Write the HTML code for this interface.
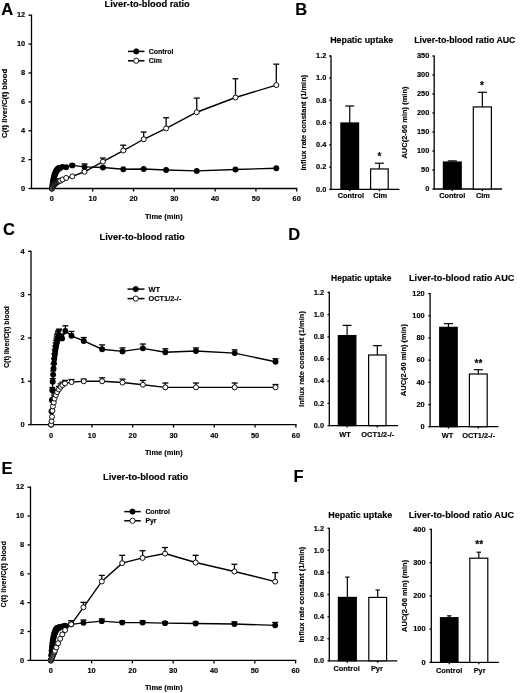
<!DOCTYPE html>
<html><head><meta charset="utf-8"><title>Figure</title>
<style>html,body{margin:0;padding:0;background:#fff}svg{display:block}text{font-family:"Liberation Sans",Arial,sans-serif;font-weight:bold;fill:#000;stroke:#000;stroke-width:0.15px}</style>
</head><body>
<svg width="520" height="693" viewBox="0 0 520 693">
<rect width="520" height="693" fill="#fff"/>
<text x="1.20" y="15.00" font-size="16.5" text-anchor="start" >A</text>
<text x="147.20" y="7.10" font-size="9.3" text-anchor="middle" >Liver-to-blood ratio</text>
<line x1="31.50" y1="14.60" x2="31.50" y2="189.10" stroke="#000" stroke-width="1.3"/>
<line x1="30.90" y1="188.50" x2="297.30" y2="188.50" stroke="#000" stroke-width="1.3"/>
<line x1="28.50" y1="188.50" x2="31.50" y2="188.50" stroke="#000" stroke-width="1.3"/>
<text x="25.20" y="190.70" font-size="7.4" text-anchor="end" >0</text>
<line x1="28.50" y1="159.62" x2="31.50" y2="159.62" stroke="#000" stroke-width="1.3"/>
<text x="25.20" y="161.82" font-size="7.4" text-anchor="end" >2</text>
<line x1="28.50" y1="130.73" x2="31.50" y2="130.73" stroke="#000" stroke-width="1.3"/>
<text x="25.20" y="132.93" font-size="7.4" text-anchor="end" >4</text>
<line x1="28.50" y1="101.85" x2="31.50" y2="101.85" stroke="#000" stroke-width="1.3"/>
<text x="25.20" y="104.05" font-size="7.4" text-anchor="end" >6</text>
<line x1="28.50" y1="72.97" x2="31.50" y2="72.97" stroke="#000" stroke-width="1.3"/>
<text x="25.20" y="75.17" font-size="7.4" text-anchor="end" >8</text>
<line x1="28.50" y1="44.08" x2="31.50" y2="44.08" stroke="#000" stroke-width="1.3"/>
<text x="25.20" y="46.28" font-size="7.4" text-anchor="end" >10</text>
<line x1="28.50" y1="15.20" x2="31.50" y2="15.20" stroke="#000" stroke-width="1.3"/>
<text x="25.20" y="17.40" font-size="7.4" text-anchor="end" >12</text>
<line x1="51.90" y1="188.50" x2="51.90" y2="191.50" stroke="#000" stroke-width="1.3"/>
<text x="51.90" y="201.30" font-size="7.4" text-anchor="middle" >0</text>
<line x1="92.70" y1="188.50" x2="92.70" y2="191.50" stroke="#000" stroke-width="1.3"/>
<text x="92.70" y="201.30" font-size="7.4" text-anchor="middle" >10</text>
<line x1="133.50" y1="188.50" x2="133.50" y2="191.50" stroke="#000" stroke-width="1.3"/>
<text x="133.50" y="201.30" font-size="7.4" text-anchor="middle" >20</text>
<line x1="174.30" y1="188.50" x2="174.30" y2="191.50" stroke="#000" stroke-width="1.3"/>
<text x="174.30" y="201.30" font-size="7.4" text-anchor="middle" >30</text>
<line x1="215.10" y1="188.50" x2="215.10" y2="191.50" stroke="#000" stroke-width="1.3"/>
<text x="215.10" y="201.30" font-size="7.4" text-anchor="middle" >40</text>
<line x1="255.90" y1="188.50" x2="255.90" y2="191.50" stroke="#000" stroke-width="1.3"/>
<text x="255.90" y="201.30" font-size="7.4" text-anchor="middle" >50</text>
<line x1="296.70" y1="188.50" x2="296.70" y2="191.50" stroke="#000" stroke-width="1.3"/>
<text x="296.70" y="201.30" font-size="7.4" text-anchor="middle" >60</text>
<text x="7.10" y="103.50" font-size="7.65" text-anchor="middle" transform="rotate(-90 7.10 103.50)" >C(t) liver/C(t) blood</text>
<text x="163.80" y="218.90" font-size="7.5" text-anchor="middle" >Time (min)</text>
<line x1="128.00" y1="51.40" x2="144.50" y2="51.40" stroke="#000" stroke-width="1.5"/>
<circle cx="136.25" cy="51.40" r="2.6" fill="#000" stroke="#000" stroke-width="0.9"/>
<text x="148.70" y="53.90" font-size="6.95" text-anchor="start" >Control</text>
<line x1="128.00" y1="60.80" x2="144.50" y2="60.80" stroke="#000" stroke-width="1.5"/>
<circle cx="136.25" cy="60.80" r="2.6" fill="#fff" stroke="#000" stroke-width="0.9"/>
<text x="148.70" y="63.30" font-size="6.95" text-anchor="start" >Cim</text>
<line x1="53.12" y1="181.12" x2="53.12" y2="180.53" stroke="#000" stroke-width="1.3"/>
<line x1="50.12" y1="180.53" x2="56.12" y2="180.53" stroke="#000" stroke-width="1.3"/>
<line x1="53.53" y1="179.25" x2="53.53" y2="178.51" stroke="#000" stroke-width="1.3"/>
<line x1="50.53" y1="178.51" x2="56.53" y2="178.51" stroke="#000" stroke-width="1.3"/>
<line x1="53.94" y1="177.61" x2="53.94" y2="176.74" stroke="#000" stroke-width="1.3"/>
<line x1="50.94" y1="176.74" x2="56.94" y2="176.74" stroke="#000" stroke-width="1.3"/>
<line x1="54.35" y1="176.17" x2="54.35" y2="175.19" stroke="#000" stroke-width="1.3"/>
<line x1="51.35" y1="175.19" x2="57.35" y2="175.19" stroke="#000" stroke-width="1.3"/>
<line x1="54.76" y1="174.92" x2="54.76" y2="173.83" stroke="#000" stroke-width="1.3"/>
<line x1="51.76" y1="173.83" x2="57.76" y2="173.83" stroke="#000" stroke-width="1.3"/>
<line x1="55.16" y1="173.82" x2="55.16" y2="172.64" stroke="#000" stroke-width="1.3"/>
<line x1="52.16" y1="172.64" x2="58.16" y2="172.64" stroke="#000" stroke-width="1.3"/>
<line x1="55.57" y1="172.86" x2="55.57" y2="171.61" stroke="#000" stroke-width="1.3"/>
<line x1="52.57" y1="171.61" x2="58.57" y2="171.61" stroke="#000" stroke-width="1.3"/>
<line x1="55.98" y1="172.02" x2="55.98" y2="170.70" stroke="#000" stroke-width="1.3"/>
<line x1="52.98" y1="170.70" x2="58.98" y2="170.70" stroke="#000" stroke-width="1.3"/>
<line x1="56.39" y1="171.28" x2="56.39" y2="169.90" stroke="#000" stroke-width="1.3"/>
<line x1="53.39" y1="169.90" x2="59.39" y2="169.90" stroke="#000" stroke-width="1.3"/>
<line x1="56.80" y1="170.63" x2="56.80" y2="169.21" stroke="#000" stroke-width="1.3"/>
<line x1="53.80" y1="169.21" x2="59.80" y2="169.21" stroke="#000" stroke-width="1.3"/>
<line x1="57.20" y1="170.07" x2="57.20" y2="168.60" stroke="#000" stroke-width="1.3"/>
<line x1="54.20" y1="168.60" x2="60.20" y2="168.60" stroke="#000" stroke-width="1.3"/>
<line x1="57.61" y1="169.58" x2="57.61" y2="168.06" stroke="#000" stroke-width="1.3"/>
<line x1="54.61" y1="168.06" x2="60.61" y2="168.06" stroke="#000" stroke-width="1.3"/>
<line x1="58.02" y1="169.14" x2="58.02" y2="167.60" stroke="#000" stroke-width="1.3"/>
<line x1="55.02" y1="167.60" x2="61.02" y2="167.60" stroke="#000" stroke-width="1.3"/>
<line x1="58.43" y1="168.77" x2="58.43" y2="167.19" stroke="#000" stroke-width="1.3"/>
<line x1="55.43" y1="167.19" x2="61.43" y2="167.19" stroke="#000" stroke-width="1.3"/>
<line x1="58.84" y1="168.44" x2="58.84" y2="166.83" stroke="#000" stroke-width="1.3"/>
<line x1="55.84" y1="166.83" x2="61.84" y2="166.83" stroke="#000" stroke-width="1.3"/>
<line x1="59.24" y1="168.15" x2="59.24" y2="166.52" stroke="#000" stroke-width="1.3"/>
<line x1="56.24" y1="166.52" x2="62.24" y2="166.52" stroke="#000" stroke-width="1.3"/>
<line x1="59.65" y1="167.89" x2="59.65" y2="166.24" stroke="#000" stroke-width="1.3"/>
<line x1="56.65" y1="166.24" x2="62.65" y2="166.24" stroke="#000" stroke-width="1.3"/>
<line x1="60.06" y1="167.67" x2="60.06" y2="166.00" stroke="#000" stroke-width="1.3"/>
<line x1="57.06" y1="166.00" x2="63.06" y2="166.00" stroke="#000" stroke-width="1.3"/>
<line x1="62.51" y1="166.84" x2="62.51" y2="165.68" stroke="#000" stroke-width="1.3"/>
<line x1="59.51" y1="165.68" x2="65.51" y2="165.68" stroke="#000" stroke-width="1.3"/>
<line x1="66.18" y1="167.27" x2="66.18" y2="166.12" stroke="#000" stroke-width="1.3"/>
<line x1="63.18" y1="166.12" x2="69.18" y2="166.12" stroke="#000" stroke-width="1.3"/>
<line x1="72.30" y1="165.39" x2="72.30" y2="164.24" stroke="#000" stroke-width="1.3"/>
<line x1="69.30" y1="164.24" x2="75.30" y2="164.24" stroke="#000" stroke-width="1.3"/>
<line x1="84.54" y1="166.84" x2="84.54" y2="163.95" stroke="#000" stroke-width="1.3"/>
<line x1="81.54" y1="163.95" x2="87.54" y2="163.95" stroke="#000" stroke-width="1.3"/>
<line x1="102.90" y1="167.56" x2="102.90" y2="166.84" stroke="#000" stroke-width="1.3"/>
<line x1="99.90" y1="166.84" x2="105.90" y2="166.84" stroke="#000" stroke-width="1.3"/>
<path d="M51.90 188.50 L52.31 185.71 L52.72 183.26 L53.12 181.12 L53.53 179.25 L53.94 177.61 L54.35 176.17 L54.76 174.92 L55.16 173.82 L55.57 172.86 L55.98 172.02 L56.39 171.28 L56.80 170.63 L57.20 170.07 L57.61 169.58 L58.02 169.14 L58.43 168.77 L58.84 168.44 L59.24 168.15 L59.65 167.89 L60.06 167.67 L62.51 166.84 L66.18 167.27 L72.30 165.39 L84.54 166.84 L102.90 167.56 L123.30 169.29 L143.70 169.00 L166.14 170.01 L196.74 170.88 L235.50 169.44 L276.30 168.28" fill="none" stroke="#000" stroke-width="1.4"/>
<circle cx="51.90" cy="188.50" r="2.95" fill="#000"/>
<circle cx="52.31" cy="185.71" r="2.95" fill="#000"/>
<circle cx="52.72" cy="183.26" r="2.95" fill="#000"/>
<circle cx="53.12" cy="181.12" r="2.95" fill="#000"/>
<circle cx="53.53" cy="179.25" r="2.95" fill="#000"/>
<circle cx="53.94" cy="177.61" r="2.95" fill="#000"/>
<circle cx="54.35" cy="176.17" r="2.95" fill="#000"/>
<circle cx="54.76" cy="174.92" r="2.95" fill="#000"/>
<circle cx="55.16" cy="173.82" r="2.95" fill="#000"/>
<circle cx="55.57" cy="172.86" r="2.95" fill="#000"/>
<circle cx="55.98" cy="172.02" r="2.95" fill="#000"/>
<circle cx="56.39" cy="171.28" r="2.95" fill="#000"/>
<circle cx="56.80" cy="170.63" r="2.95" fill="#000"/>
<circle cx="57.20" cy="170.07" r="2.95" fill="#000"/>
<circle cx="57.61" cy="169.58" r="2.95" fill="#000"/>
<circle cx="58.02" cy="169.14" r="2.95" fill="#000"/>
<circle cx="58.43" cy="168.77" r="2.95" fill="#000"/>
<circle cx="58.84" cy="168.44" r="2.95" fill="#000"/>
<circle cx="59.24" cy="168.15" r="2.95" fill="#000"/>
<circle cx="59.65" cy="167.89" r="2.95" fill="#000"/>
<circle cx="60.06" cy="167.67" r="2.95" fill="#000"/>
<circle cx="62.51" cy="166.84" r="2.95" fill="#000"/>
<circle cx="66.18" cy="167.27" r="2.95" fill="#000"/>
<circle cx="72.30" cy="165.39" r="2.95" fill="#000"/>
<circle cx="84.54" cy="166.84" r="2.95" fill="#000"/>
<circle cx="102.90" cy="167.56" r="2.95" fill="#000"/>
<circle cx="123.30" cy="169.29" r="2.95" fill="#000"/>
<circle cx="143.70" cy="169.00" r="2.95" fill="#000"/>
<circle cx="166.14" cy="170.01" r="2.95" fill="#000"/>
<circle cx="196.74" cy="170.88" r="2.95" fill="#000"/>
<circle cx="235.50" cy="169.44" r="2.95" fill="#000"/>
<circle cx="276.30" cy="168.28" r="2.95" fill="#000"/>
<line x1="84.54" y1="171.75" x2="84.54" y2="170.30" stroke="#000" stroke-width="1.3"/>
<line x1="81.54" y1="170.30" x2="87.54" y2="170.30" stroke="#000" stroke-width="1.3"/>
<line x1="102.90" y1="161.64" x2="102.90" y2="158.03" stroke="#000" stroke-width="1.3"/>
<line x1="99.90" y1="158.03" x2="105.90" y2="158.03" stroke="#000" stroke-width="1.3"/>
<line x1="123.30" y1="150.52" x2="123.30" y2="145.18" stroke="#000" stroke-width="1.3"/>
<line x1="120.30" y1="145.18" x2="126.30" y2="145.18" stroke="#000" stroke-width="1.3"/>
<line x1="143.70" y1="139.25" x2="143.70" y2="132.03" stroke="#000" stroke-width="1.3"/>
<line x1="140.70" y1="132.03" x2="146.70" y2="132.03" stroke="#000" stroke-width="1.3"/>
<line x1="166.14" y1="128.42" x2="166.14" y2="117.74" stroke="#000" stroke-width="1.3"/>
<line x1="163.14" y1="117.74" x2="169.14" y2="117.74" stroke="#000" stroke-width="1.3"/>
<line x1="196.74" y1="112.25" x2="196.74" y2="98.10" stroke="#000" stroke-width="1.3"/>
<line x1="193.74" y1="98.10" x2="199.74" y2="98.10" stroke="#000" stroke-width="1.3"/>
<line x1="235.50" y1="97.52" x2="235.50" y2="78.74" stroke="#000" stroke-width="1.3"/>
<line x1="232.50" y1="78.74" x2="238.50" y2="78.74" stroke="#000" stroke-width="1.3"/>
<line x1="276.30" y1="85.10" x2="276.30" y2="64.16" stroke="#000" stroke-width="1.3"/>
<line x1="273.30" y1="64.16" x2="279.30" y2="64.16" stroke="#000" stroke-width="1.3"/>
<path d="M51.90 188.50 L52.31 187.65 L52.72 186.88 L53.12 186.18 L53.53 185.55 L53.94 184.98 L54.35 184.46 L54.76 183.99 L55.16 183.57 L55.57 183.19 L55.98 182.84 L56.39 182.53 L56.80 182.24 L57.20 181.99 L57.61 181.75 L58.02 181.54 L58.43 181.35 L58.84 181.18 L59.24 181.03 L59.65 180.89 L60.26 180.70 L62.51 179.55 L66.18 177.96 L72.30 176.37 L84.54 171.75 L102.90 161.64 L123.30 150.52 L143.70 139.25 L166.14 128.42 L196.74 112.25 L235.50 97.52 L276.30 85.10" fill="none" stroke="#000" stroke-width="1.4"/>
<circle cx="51.90" cy="188.50" r="2.5" fill="#fff" stroke="#000" stroke-width="0.95"/>
<circle cx="52.31" cy="187.65" r="2.5" fill="#fff" stroke="#000" stroke-width="0.95"/>
<circle cx="52.72" cy="186.88" r="2.5" fill="#fff" stroke="#000" stroke-width="0.95"/>
<circle cx="53.12" cy="186.18" r="2.5" fill="#fff" stroke="#000" stroke-width="0.95"/>
<circle cx="53.53" cy="185.55" r="2.5" fill="#fff" stroke="#000" stroke-width="0.95"/>
<circle cx="53.94" cy="184.98" r="2.5" fill="#fff" stroke="#000" stroke-width="0.95"/>
<circle cx="54.35" cy="184.46" r="2.5" fill="#fff" stroke="#000" stroke-width="0.95"/>
<circle cx="54.76" cy="183.99" r="2.5" fill="#fff" stroke="#000" stroke-width="0.95"/>
<circle cx="55.16" cy="183.57" r="2.5" fill="#fff" stroke="#000" stroke-width="0.95"/>
<circle cx="55.57" cy="183.19" r="2.5" fill="#fff" stroke="#000" stroke-width="0.95"/>
<circle cx="55.98" cy="182.84" r="2.5" fill="#fff" stroke="#000" stroke-width="0.95"/>
<circle cx="56.39" cy="182.53" r="2.5" fill="#fff" stroke="#000" stroke-width="0.95"/>
<circle cx="56.80" cy="182.24" r="2.5" fill="#fff" stroke="#000" stroke-width="0.95"/>
<circle cx="57.20" cy="181.99" r="2.5" fill="#fff" stroke="#000" stroke-width="0.95"/>
<circle cx="57.61" cy="181.75" r="2.5" fill="#fff" stroke="#000" stroke-width="0.95"/>
<circle cx="58.02" cy="181.54" r="2.5" fill="#fff" stroke="#000" stroke-width="0.95"/>
<circle cx="58.43" cy="181.35" r="2.5" fill="#fff" stroke="#000" stroke-width="0.95"/>
<circle cx="58.84" cy="181.18" r="2.5" fill="#fff" stroke="#000" stroke-width="0.95"/>
<circle cx="59.24" cy="181.03" r="2.5" fill="#fff" stroke="#000" stroke-width="0.95"/>
<circle cx="59.65" cy="180.89" r="2.5" fill="#fff" stroke="#000" stroke-width="0.95"/>
<circle cx="60.26" cy="180.70" r="2.5" fill="#fff" stroke="#000" stroke-width="0.95"/>
<circle cx="62.51" cy="179.55" r="2.5" fill="#fff" stroke="#000" stroke-width="0.95"/>
<circle cx="66.18" cy="177.96" r="2.5" fill="#fff" stroke="#000" stroke-width="0.95"/>
<circle cx="72.30" cy="176.37" r="2.5" fill="#fff" stroke="#000" stroke-width="0.95"/>
<circle cx="84.54" cy="171.75" r="2.5" fill="#fff" stroke="#000" stroke-width="0.95"/>
<circle cx="102.90" cy="161.64" r="2.5" fill="#fff" stroke="#000" stroke-width="0.95"/>
<circle cx="123.30" cy="150.52" r="2.5" fill="#fff" stroke="#000" stroke-width="0.95"/>
<circle cx="143.70" cy="139.25" r="2.5" fill="#fff" stroke="#000" stroke-width="0.95"/>
<circle cx="166.14" cy="128.42" r="2.5" fill="#fff" stroke="#000" stroke-width="0.95"/>
<circle cx="196.74" cy="112.25" r="2.5" fill="#fff" stroke="#000" stroke-width="0.95"/>
<circle cx="235.50" cy="97.52" r="2.5" fill="#fff" stroke="#000" stroke-width="0.95"/>
<circle cx="276.30" cy="85.10" r="2.5" fill="#fff" stroke="#000" stroke-width="0.95"/>
<text x="3.00" y="235.10" font-size="16.5" text-anchor="start" >C</text>
<text x="142.20" y="240.10" font-size="9.3" text-anchor="middle" >Liver-to-blood ratio</text>
<line x1="31.00" y1="250.70" x2="31.00" y2="425.20" stroke="#000" stroke-width="1.3"/>
<line x1="30.40" y1="424.60" x2="296.50" y2="424.60" stroke="#000" stroke-width="1.3"/>
<line x1="28.00" y1="424.60" x2="31.00" y2="424.60" stroke="#000" stroke-width="1.3"/>
<text x="24.70" y="426.80" font-size="7.4" text-anchor="end" >0</text>
<line x1="28.00" y1="381.28" x2="31.00" y2="381.28" stroke="#000" stroke-width="1.3"/>
<text x="24.70" y="383.48" font-size="7.4" text-anchor="end" >1</text>
<line x1="28.00" y1="337.95" x2="31.00" y2="337.95" stroke="#000" stroke-width="1.3"/>
<text x="24.70" y="340.15" font-size="7.4" text-anchor="end" >2</text>
<line x1="28.00" y1="294.62" x2="31.00" y2="294.62" stroke="#000" stroke-width="1.3"/>
<text x="24.70" y="296.82" font-size="7.4" text-anchor="end" >3</text>
<line x1="28.00" y1="251.30" x2="31.00" y2="251.30" stroke="#000" stroke-width="1.3"/>
<text x="24.70" y="253.50" font-size="7.4" text-anchor="end" >4</text>
<line x1="51.10" y1="424.60" x2="51.10" y2="427.60" stroke="#000" stroke-width="1.3"/>
<text x="51.10" y="437.50" font-size="7.4" text-anchor="middle" >0</text>
<line x1="91.90" y1="424.60" x2="91.90" y2="427.60" stroke="#000" stroke-width="1.3"/>
<text x="91.90" y="437.50" font-size="7.4" text-anchor="middle" >10</text>
<line x1="132.70" y1="424.60" x2="132.70" y2="427.60" stroke="#000" stroke-width="1.3"/>
<text x="132.70" y="437.50" font-size="7.4" text-anchor="middle" >20</text>
<line x1="173.50" y1="424.60" x2="173.50" y2="427.60" stroke="#000" stroke-width="1.3"/>
<text x="173.50" y="437.50" font-size="7.4" text-anchor="middle" >30</text>
<line x1="214.30" y1="424.60" x2="214.30" y2="427.60" stroke="#000" stroke-width="1.3"/>
<text x="214.30" y="437.50" font-size="7.4" text-anchor="middle" >40</text>
<line x1="255.10" y1="424.60" x2="255.10" y2="427.60" stroke="#000" stroke-width="1.3"/>
<text x="255.10" y="437.50" font-size="7.4" text-anchor="middle" >50</text>
<line x1="295.90" y1="424.60" x2="295.90" y2="427.60" stroke="#000" stroke-width="1.3"/>
<text x="295.90" y="437.50" font-size="7.4" text-anchor="middle" >60</text>
<text x="8.80" y="337.00" font-size="6.8" text-anchor="middle" transform="rotate(-90 8.80 337.00)" >C(t) liver/C(t) blood</text>
<text x="163.80" y="454.90" font-size="7.5" text-anchor="middle" >Time (min)</text>
<line x1="127.50" y1="289.10" x2="144.50" y2="289.10" stroke="#000" stroke-width="1.5"/>
<circle cx="135.75" cy="289.10" r="2.6" fill="#000" stroke="#000" stroke-width="0.9"/>
<text x="148.50" y="291.76" font-size="7.4" text-anchor="start" >WT</text>
<line x1="127.50" y1="298.60" x2="144.50" y2="298.60" stroke="#000" stroke-width="1.5"/>
<circle cx="135.75" cy="298.60" r="2.6" fill="#fff" stroke="#000" stroke-width="0.9"/>
<text x="148.50" y="301.26" font-size="7.4" text-anchor="start" >OCT1/2-/-</text>
<line x1="52.32" y1="390.16" x2="52.32" y2="387.58" stroke="#000" stroke-width="1.3"/>
<line x1="49.32" y1="387.58" x2="55.32" y2="387.58" stroke="#000" stroke-width="1.3"/>
<line x1="52.73" y1="381.79" x2="52.73" y2="378.58" stroke="#000" stroke-width="1.3"/>
<line x1="49.73" y1="378.58" x2="55.73" y2="378.58" stroke="#000" stroke-width="1.3"/>
<line x1="53.14" y1="374.61" x2="53.14" y2="370.86" stroke="#000" stroke-width="1.3"/>
<line x1="50.14" y1="370.86" x2="56.14" y2="370.86" stroke="#000" stroke-width="1.3"/>
<line x1="53.55" y1="368.46" x2="53.55" y2="364.25" stroke="#000" stroke-width="1.3"/>
<line x1="50.55" y1="364.25" x2="56.55" y2="364.25" stroke="#000" stroke-width="1.3"/>
<line x1="53.96" y1="363.18" x2="53.96" y2="358.58" stroke="#000" stroke-width="1.3"/>
<line x1="50.96" y1="358.58" x2="56.96" y2="358.58" stroke="#000" stroke-width="1.3"/>
<line x1="54.36" y1="358.66" x2="54.36" y2="353.71" stroke="#000" stroke-width="1.3"/>
<line x1="51.36" y1="353.71" x2="57.36" y2="353.71" stroke="#000" stroke-width="1.3"/>
<line x1="54.77" y1="354.78" x2="54.77" y2="349.54" stroke="#000" stroke-width="1.3"/>
<line x1="51.77" y1="349.54" x2="57.77" y2="349.54" stroke="#000" stroke-width="1.3"/>
<line x1="55.18" y1="351.45" x2="55.18" y2="345.97" stroke="#000" stroke-width="1.3"/>
<line x1="52.18" y1="345.97" x2="58.18" y2="345.97" stroke="#000" stroke-width="1.3"/>
<line x1="55.59" y1="348.60" x2="55.59" y2="342.90" stroke="#000" stroke-width="1.3"/>
<line x1="52.59" y1="342.90" x2="58.59" y2="342.90" stroke="#000" stroke-width="1.3"/>
<line x1="56.00" y1="346.15" x2="56.00" y2="340.27" stroke="#000" stroke-width="1.3"/>
<line x1="53.00" y1="340.27" x2="59.00" y2="340.27" stroke="#000" stroke-width="1.3"/>
<line x1="56.40" y1="344.06" x2="56.40" y2="338.02" stroke="#000" stroke-width="1.3"/>
<line x1="53.40" y1="338.02" x2="59.40" y2="338.02" stroke="#000" stroke-width="1.3"/>
<line x1="56.81" y1="342.26" x2="56.81" y2="336.08" stroke="#000" stroke-width="1.3"/>
<line x1="53.81" y1="336.08" x2="59.81" y2="336.08" stroke="#000" stroke-width="1.3"/>
<line x1="57.22" y1="340.72" x2="57.22" y2="334.43" stroke="#000" stroke-width="1.3"/>
<line x1="54.22" y1="334.43" x2="60.22" y2="334.43" stroke="#000" stroke-width="1.3"/>
<line x1="57.63" y1="339.40" x2="57.63" y2="333.01" stroke="#000" stroke-width="1.3"/>
<line x1="54.63" y1="333.01" x2="60.63" y2="333.01" stroke="#000" stroke-width="1.3"/>
<line x1="58.04" y1="338.26" x2="58.04" y2="331.79" stroke="#000" stroke-width="1.3"/>
<line x1="55.04" y1="331.79" x2="61.04" y2="331.79" stroke="#000" stroke-width="1.3"/>
<line x1="58.44" y1="337.29" x2="58.44" y2="330.74" stroke="#000" stroke-width="1.3"/>
<line x1="55.44" y1="330.74" x2="61.44" y2="330.74" stroke="#000" stroke-width="1.3"/>
<line x1="58.85" y1="336.46" x2="58.85" y2="329.85" stroke="#000" stroke-width="1.3"/>
<line x1="55.85" y1="329.85" x2="61.85" y2="329.85" stroke="#000" stroke-width="1.3"/>
<line x1="59.26" y1="335.75" x2="59.26" y2="329.08" stroke="#000" stroke-width="1.3"/>
<line x1="56.26" y1="329.08" x2="62.26" y2="329.08" stroke="#000" stroke-width="1.3"/>
<line x1="62.12" y1="338.38" x2="62.12" y2="334.05" stroke="#000" stroke-width="1.3"/>
<line x1="59.12" y1="334.05" x2="65.12" y2="334.05" stroke="#000" stroke-width="1.3"/>
<line x1="65.38" y1="331.02" x2="65.38" y2="325.82" stroke="#000" stroke-width="1.3"/>
<line x1="62.38" y1="325.82" x2="68.38" y2="325.82" stroke="#000" stroke-width="1.3"/>
<line x1="71.50" y1="335.78" x2="71.50" y2="331.45" stroke="#000" stroke-width="1.3"/>
<line x1="68.50" y1="331.45" x2="74.50" y2="331.45" stroke="#000" stroke-width="1.3"/>
<line x1="83.74" y1="340.98" x2="83.74" y2="337.52" stroke="#000" stroke-width="1.3"/>
<line x1="80.74" y1="337.52" x2="86.74" y2="337.52" stroke="#000" stroke-width="1.3"/>
<line x1="102.10" y1="349.21" x2="102.10" y2="344.88" stroke="#000" stroke-width="1.3"/>
<line x1="99.10" y1="344.88" x2="105.10" y2="344.88" stroke="#000" stroke-width="1.3"/>
<line x1="122.50" y1="351.38" x2="122.50" y2="347.91" stroke="#000" stroke-width="1.3"/>
<line x1="119.50" y1="347.91" x2="125.50" y2="347.91" stroke="#000" stroke-width="1.3"/>
<line x1="142.90" y1="348.35" x2="142.90" y2="344.02" stroke="#000" stroke-width="1.3"/>
<line x1="139.90" y1="344.02" x2="145.90" y2="344.02" stroke="#000" stroke-width="1.3"/>
<line x1="165.34" y1="352.25" x2="165.34" y2="348.78" stroke="#000" stroke-width="1.3"/>
<line x1="162.34" y1="348.78" x2="168.34" y2="348.78" stroke="#000" stroke-width="1.3"/>
<line x1="195.94" y1="350.95" x2="195.94" y2="347.91" stroke="#000" stroke-width="1.3"/>
<line x1="192.94" y1="347.91" x2="198.94" y2="347.91" stroke="#000" stroke-width="1.3"/>
<line x1="234.70" y1="353.11" x2="234.70" y2="349.86" stroke="#000" stroke-width="1.3"/>
<line x1="231.70" y1="349.86" x2="237.70" y2="349.86" stroke="#000" stroke-width="1.3"/>
<line x1="275.50" y1="361.78" x2="275.50" y2="358.75" stroke="#000" stroke-width="1.3"/>
<line x1="272.50" y1="358.75" x2="278.50" y2="358.75" stroke="#000" stroke-width="1.3"/>
<path d="M51.10 424.60 L51.51 411.32 L51.92 399.93 L52.32 390.16 L52.73 381.79 L53.14 374.61 L53.55 368.46 L53.96 363.18 L54.36 358.66 L54.77 354.78 L55.18 351.45 L55.59 348.60 L56.00 346.15 L56.40 344.06 L56.81 342.26 L57.22 340.72 L57.63 339.40 L58.04 338.26 L58.44 337.29 L58.85 336.46 L59.26 335.75 L62.12 338.38 L65.38 331.02 L71.50 335.78 L83.74 340.98 L102.10 349.21 L122.50 351.38 L142.90 348.35 L165.34 352.25 L195.94 350.95 L234.70 353.11 L275.50 361.78" fill="none" stroke="#000" stroke-width="1.4"/>
<circle cx="51.10" cy="424.60" r="2.95" fill="#000"/>
<circle cx="51.51" cy="411.32" r="2.95" fill="#000"/>
<circle cx="51.92" cy="399.93" r="2.95" fill="#000"/>
<circle cx="52.32" cy="390.16" r="2.95" fill="#000"/>
<circle cx="52.73" cy="381.79" r="2.95" fill="#000"/>
<circle cx="53.14" cy="374.61" r="2.95" fill="#000"/>
<circle cx="53.55" cy="368.46" r="2.95" fill="#000"/>
<circle cx="53.96" cy="363.18" r="2.95" fill="#000"/>
<circle cx="54.36" cy="358.66" r="2.95" fill="#000"/>
<circle cx="54.77" cy="354.78" r="2.95" fill="#000"/>
<circle cx="55.18" cy="351.45" r="2.95" fill="#000"/>
<circle cx="55.59" cy="348.60" r="2.95" fill="#000"/>
<circle cx="56.00" cy="346.15" r="2.95" fill="#000"/>
<circle cx="56.40" cy="344.06" r="2.95" fill="#000"/>
<circle cx="56.81" cy="342.26" r="2.95" fill="#000"/>
<circle cx="57.22" cy="340.72" r="2.95" fill="#000"/>
<circle cx="57.63" cy="339.40" r="2.95" fill="#000"/>
<circle cx="58.04" cy="338.26" r="2.95" fill="#000"/>
<circle cx="58.44" cy="337.29" r="2.95" fill="#000"/>
<circle cx="58.85" cy="336.46" r="2.95" fill="#000"/>
<circle cx="59.26" cy="335.75" r="2.95" fill="#000"/>
<circle cx="62.12" cy="338.38" r="2.95" fill="#000"/>
<circle cx="65.38" cy="331.02" r="2.95" fill="#000"/>
<circle cx="71.50" cy="335.78" r="2.95" fill="#000"/>
<circle cx="83.74" cy="340.98" r="2.95" fill="#000"/>
<circle cx="102.10" cy="349.21" r="2.95" fill="#000"/>
<circle cx="122.50" cy="351.38" r="2.95" fill="#000"/>
<circle cx="142.90" cy="348.35" r="2.95" fill="#000"/>
<circle cx="165.34" cy="352.25" r="2.95" fill="#000"/>
<circle cx="195.94" cy="350.95" r="2.95" fill="#000"/>
<circle cx="234.70" cy="353.11" r="2.95" fill="#000"/>
<circle cx="275.50" cy="361.78" r="2.95" fill="#000"/>
<line x1="55.87" y1="395.14" x2="55.87" y2="392.97" stroke="#000" stroke-width="1.3"/>
<line x1="52.87" y1="392.97" x2="58.87" y2="392.97" stroke="#000" stroke-width="1.3"/>
<line x1="57.18" y1="392.11" x2="57.18" y2="389.51" stroke="#000" stroke-width="1.3"/>
<line x1="54.18" y1="389.51" x2="60.18" y2="389.51" stroke="#000" stroke-width="1.3"/>
<line x1="58.85" y1="389.51" x2="58.85" y2="386.47" stroke="#000" stroke-width="1.3"/>
<line x1="55.85" y1="386.47" x2="61.85" y2="386.47" stroke="#000" stroke-width="1.3"/>
<line x1="60.65" y1="386.91" x2="60.65" y2="383.87" stroke="#000" stroke-width="1.3"/>
<line x1="57.65" y1="383.87" x2="63.65" y2="383.87" stroke="#000" stroke-width="1.3"/>
<line x1="62.36" y1="385.17" x2="62.36" y2="382.14" stroke="#000" stroke-width="1.3"/>
<line x1="59.36" y1="382.14" x2="65.36" y2="382.14" stroke="#000" stroke-width="1.3"/>
<line x1="64.97" y1="383.44" x2="64.97" y2="380.41" stroke="#000" stroke-width="1.3"/>
<line x1="61.97" y1="380.41" x2="67.97" y2="380.41" stroke="#000" stroke-width="1.3"/>
<line x1="71.50" y1="382.14" x2="71.50" y2="379.54" stroke="#000" stroke-width="1.3"/>
<line x1="68.50" y1="379.54" x2="74.50" y2="379.54" stroke="#000" stroke-width="1.3"/>
<line x1="83.74" y1="381.28" x2="83.74" y2="379.11" stroke="#000" stroke-width="1.3"/>
<line x1="80.74" y1="379.11" x2="86.74" y2="379.11" stroke="#000" stroke-width="1.3"/>
<line x1="102.10" y1="381.28" x2="102.10" y2="377.81" stroke="#000" stroke-width="1.3"/>
<line x1="99.10" y1="377.81" x2="105.10" y2="377.81" stroke="#000" stroke-width="1.3"/>
<line x1="122.50" y1="382.57" x2="122.50" y2="379.11" stroke="#000" stroke-width="1.3"/>
<line x1="119.50" y1="379.11" x2="125.50" y2="379.11" stroke="#000" stroke-width="1.3"/>
<line x1="142.90" y1="384.74" x2="142.90" y2="380.41" stroke="#000" stroke-width="1.3"/>
<line x1="139.90" y1="380.41" x2="145.90" y2="380.41" stroke="#000" stroke-width="1.3"/>
<line x1="165.34" y1="387.34" x2="165.34" y2="383.01" stroke="#000" stroke-width="1.3"/>
<line x1="162.34" y1="383.01" x2="168.34" y2="383.01" stroke="#000" stroke-width="1.3"/>
<line x1="195.94" y1="387.34" x2="195.94" y2="383.01" stroke="#000" stroke-width="1.3"/>
<line x1="192.94" y1="383.01" x2="198.94" y2="383.01" stroke="#000" stroke-width="1.3"/>
<line x1="234.70" y1="387.34" x2="234.70" y2="383.01" stroke="#000" stroke-width="1.3"/>
<line x1="231.70" y1="383.01" x2="237.70" y2="383.01" stroke="#000" stroke-width="1.3"/>
<line x1="275.50" y1="387.34" x2="275.50" y2="384.52" stroke="#000" stroke-width="1.3"/>
<line x1="272.50" y1="384.52" x2="278.50" y2="384.52" stroke="#000" stroke-width="1.3"/>
<path d="M51.10 424.60 L51.59 421.13 L52.00 416.80 L52.45 410.74 L52.90 406.40 L53.75 402.50 L54.57 398.61 L55.87 395.14 L57.18 392.11 L58.85 389.51 L60.65 386.91 L62.36 385.17 L64.97 383.44 L71.50 382.14 L83.74 381.28 L102.10 381.28 L122.50 382.57 L142.90 384.74 L165.34 387.34 L195.94 387.34 L234.70 387.34 L275.50 387.34" fill="none" stroke="#000" stroke-width="1.4"/>
<circle cx="51.10" cy="424.60" r="2.5" fill="#fff" stroke="#000" stroke-width="0.95"/>
<circle cx="51.59" cy="421.13" r="2.5" fill="#fff" stroke="#000" stroke-width="0.95"/>
<circle cx="52.00" cy="416.80" r="2.5" fill="#fff" stroke="#000" stroke-width="0.95"/>
<circle cx="52.45" cy="410.74" r="2.5" fill="#fff" stroke="#000" stroke-width="0.95"/>
<circle cx="52.90" cy="406.40" r="2.5" fill="#fff" stroke="#000" stroke-width="0.95"/>
<circle cx="53.75" cy="402.50" r="2.5" fill="#fff" stroke="#000" stroke-width="0.95"/>
<circle cx="54.57" cy="398.61" r="2.5" fill="#fff" stroke="#000" stroke-width="0.95"/>
<circle cx="55.87" cy="395.14" r="2.5" fill="#fff" stroke="#000" stroke-width="0.95"/>
<circle cx="57.18" cy="392.11" r="2.5" fill="#fff" stroke="#000" stroke-width="0.95"/>
<circle cx="58.85" cy="389.51" r="2.5" fill="#fff" stroke="#000" stroke-width="0.95"/>
<circle cx="60.65" cy="386.91" r="2.5" fill="#fff" stroke="#000" stroke-width="0.95"/>
<circle cx="62.36" cy="385.17" r="2.5" fill="#fff" stroke="#000" stroke-width="0.95"/>
<circle cx="64.97" cy="383.44" r="2.5" fill="#fff" stroke="#000" stroke-width="0.95"/>
<circle cx="71.50" cy="382.14" r="2.5" fill="#fff" stroke="#000" stroke-width="0.95"/>
<circle cx="83.74" cy="381.28" r="2.5" fill="#fff" stroke="#000" stroke-width="0.95"/>
<circle cx="102.10" cy="381.28" r="2.5" fill="#fff" stroke="#000" stroke-width="0.95"/>
<circle cx="122.50" cy="382.57" r="2.5" fill="#fff" stroke="#000" stroke-width="0.95"/>
<circle cx="142.90" cy="384.74" r="2.5" fill="#fff" stroke="#000" stroke-width="0.95"/>
<circle cx="165.34" cy="387.34" r="2.5" fill="#fff" stroke="#000" stroke-width="0.95"/>
<circle cx="195.94" cy="387.34" r="2.5" fill="#fff" stroke="#000" stroke-width="0.95"/>
<circle cx="234.70" cy="387.34" r="2.5" fill="#fff" stroke="#000" stroke-width="0.95"/>
<circle cx="275.50" cy="387.34" r="2.5" fill="#fff" stroke="#000" stroke-width="0.95"/>
<text x="1.60" y="473.70" font-size="16.5" text-anchor="start" >E</text>
<text x="145.60" y="480.00" font-size="9.3" text-anchor="middle" >Liver-to-blood ratio</text>
<line x1="30.50" y1="486.60" x2="30.50" y2="661.00" stroke="#000" stroke-width="1.3"/>
<line x1="29.90" y1="660.40" x2="296.20" y2="660.40" stroke="#000" stroke-width="1.3"/>
<line x1="27.50" y1="660.40" x2="30.50" y2="660.40" stroke="#000" stroke-width="1.3"/>
<text x="24.20" y="662.60" font-size="7.4" text-anchor="end" >0</text>
<line x1="27.50" y1="631.53" x2="30.50" y2="631.53" stroke="#000" stroke-width="1.3"/>
<text x="24.20" y="633.73" font-size="7.4" text-anchor="end" >2</text>
<line x1="27.50" y1="602.67" x2="30.50" y2="602.67" stroke="#000" stroke-width="1.3"/>
<text x="24.20" y="604.87" font-size="7.4" text-anchor="end" >4</text>
<line x1="27.50" y1="573.80" x2="30.50" y2="573.80" stroke="#000" stroke-width="1.3"/>
<text x="24.20" y="576.00" font-size="7.4" text-anchor="end" >6</text>
<line x1="27.50" y1="544.93" x2="30.50" y2="544.93" stroke="#000" stroke-width="1.3"/>
<text x="24.20" y="547.13" font-size="7.4" text-anchor="end" >8</text>
<line x1="27.50" y1="516.07" x2="30.50" y2="516.07" stroke="#000" stroke-width="1.3"/>
<text x="24.20" y="518.27" font-size="7.4" text-anchor="end" >10</text>
<line x1="27.50" y1="487.20" x2="30.50" y2="487.20" stroke="#000" stroke-width="1.3"/>
<text x="24.20" y="489.40" font-size="7.4" text-anchor="end" >12</text>
<line x1="50.80" y1="660.40" x2="50.80" y2="663.40" stroke="#000" stroke-width="1.3"/>
<text x="50.80" y="673.30" font-size="7.4" text-anchor="middle" >0</text>
<line x1="91.60" y1="660.40" x2="91.60" y2="663.40" stroke="#000" stroke-width="1.3"/>
<text x="91.60" y="673.30" font-size="7.4" text-anchor="middle" >10</text>
<line x1="132.40" y1="660.40" x2="132.40" y2="663.40" stroke="#000" stroke-width="1.3"/>
<text x="132.40" y="673.30" font-size="7.4" text-anchor="middle" >20</text>
<line x1="173.20" y1="660.40" x2="173.20" y2="663.40" stroke="#000" stroke-width="1.3"/>
<text x="173.20" y="673.30" font-size="7.4" text-anchor="middle" >30</text>
<line x1="214.00" y1="660.40" x2="214.00" y2="663.40" stroke="#000" stroke-width="1.3"/>
<text x="214.00" y="673.30" font-size="7.4" text-anchor="middle" >40</text>
<line x1="254.80" y1="660.40" x2="254.80" y2="663.40" stroke="#000" stroke-width="1.3"/>
<text x="254.80" y="673.30" font-size="7.4" text-anchor="middle" >50</text>
<line x1="295.60" y1="660.40" x2="295.60" y2="663.40" stroke="#000" stroke-width="1.3"/>
<text x="295.60" y="673.30" font-size="7.4" text-anchor="middle" >60</text>
<text x="5.80" y="574.30" font-size="7.35" text-anchor="middle" transform="rotate(-90 5.80 574.30)" >C(t) liver/C(t) blood</text>
<text x="163.80" y="690.20" font-size="7.5" text-anchor="middle" >Time (min)</text>
<line x1="124.25" y1="511.60" x2="140.75" y2="511.60" stroke="#000" stroke-width="1.5"/>
<circle cx="132.50" cy="511.60" r="2.6" fill="#000" stroke="#000" stroke-width="0.9"/>
<text x="145.40" y="514.08" font-size="6.9" text-anchor="start" >Control</text>
<line x1="124.25" y1="520.80" x2="140.75" y2="520.80" stroke="#000" stroke-width="1.5"/>
<circle cx="132.50" cy="520.80" r="2.6" fill="#fff" stroke="#000" stroke-width="0.9"/>
<text x="145.40" y="523.28" font-size="6.9" text-anchor="start" >Pyr</text>
<line x1="52.02" y1="647.05" x2="52.02" y2="646.18" stroke="#000" stroke-width="1.3"/>
<line x1="49.02" y1="646.18" x2="55.02" y2="646.18" stroke="#000" stroke-width="1.3"/>
<line x1="52.43" y1="643.90" x2="52.43" y2="642.82" stroke="#000" stroke-width="1.3"/>
<line x1="49.43" y1="642.82" x2="55.43" y2="642.82" stroke="#000" stroke-width="1.3"/>
<line x1="52.84" y1="641.22" x2="52.84" y2="639.97" stroke="#000" stroke-width="1.3"/>
<line x1="49.84" y1="639.97" x2="55.84" y2="639.97" stroke="#000" stroke-width="1.3"/>
<line x1="53.25" y1="638.96" x2="53.25" y2="637.56" stroke="#000" stroke-width="1.3"/>
<line x1="50.25" y1="637.56" x2="56.25" y2="637.56" stroke="#000" stroke-width="1.3"/>
<line x1="53.66" y1="637.04" x2="53.66" y2="635.52" stroke="#000" stroke-width="1.3"/>
<line x1="50.66" y1="635.52" x2="56.66" y2="635.52" stroke="#000" stroke-width="1.3"/>
<line x1="54.06" y1="635.42" x2="54.06" y2="633.79" stroke="#000" stroke-width="1.3"/>
<line x1="51.06" y1="633.79" x2="57.06" y2="633.79" stroke="#000" stroke-width="1.3"/>
<line x1="54.47" y1="634.05" x2="54.47" y2="632.33" stroke="#000" stroke-width="1.3"/>
<line x1="51.47" y1="632.33" x2="57.47" y2="632.33" stroke="#000" stroke-width="1.3"/>
<line x1="54.88" y1="632.89" x2="54.88" y2="631.09" stroke="#000" stroke-width="1.3"/>
<line x1="51.88" y1="631.09" x2="57.88" y2="631.09" stroke="#000" stroke-width="1.3"/>
<line x1="55.29" y1="631.90" x2="55.29" y2="630.05" stroke="#000" stroke-width="1.3"/>
<line x1="52.29" y1="630.05" x2="58.29" y2="630.05" stroke="#000" stroke-width="1.3"/>
<line x1="55.70" y1="631.07" x2="55.70" y2="629.16" stroke="#000" stroke-width="1.3"/>
<line x1="52.70" y1="629.16" x2="58.70" y2="629.16" stroke="#000" stroke-width="1.3"/>
<line x1="56.10" y1="630.37" x2="56.10" y2="628.41" stroke="#000" stroke-width="1.3"/>
<line x1="53.10" y1="628.41" x2="59.10" y2="628.41" stroke="#000" stroke-width="1.3"/>
<line x1="56.51" y1="629.77" x2="56.51" y2="627.77" stroke="#000" stroke-width="1.3"/>
<line x1="53.51" y1="627.77" x2="59.51" y2="627.77" stroke="#000" stroke-width="1.3"/>
<line x1="56.92" y1="629.27" x2="56.92" y2="627.24" stroke="#000" stroke-width="1.3"/>
<line x1="53.92" y1="627.24" x2="59.92" y2="627.24" stroke="#000" stroke-width="1.3"/>
<line x1="57.33" y1="628.84" x2="57.33" y2="626.78" stroke="#000" stroke-width="1.3"/>
<line x1="54.33" y1="626.78" x2="60.33" y2="626.78" stroke="#000" stroke-width="1.3"/>
<line x1="57.74" y1="628.48" x2="57.74" y2="626.39" stroke="#000" stroke-width="1.3"/>
<line x1="54.74" y1="626.39" x2="60.74" y2="626.39" stroke="#000" stroke-width="1.3"/>
<line x1="58.14" y1="628.17" x2="58.14" y2="626.07" stroke="#000" stroke-width="1.3"/>
<line x1="55.14" y1="626.07" x2="61.14" y2="626.07" stroke="#000" stroke-width="1.3"/>
<line x1="58.55" y1="627.91" x2="58.55" y2="625.79" stroke="#000" stroke-width="1.3"/>
<line x1="55.55" y1="625.79" x2="61.55" y2="625.79" stroke="#000" stroke-width="1.3"/>
<line x1="58.96" y1="627.69" x2="58.96" y2="625.56" stroke="#000" stroke-width="1.3"/>
<line x1="55.96" y1="625.56" x2="61.96" y2="625.56" stroke="#000" stroke-width="1.3"/>
<line x1="60.18" y1="626.91" x2="60.18" y2="625.18" stroke="#000" stroke-width="1.3"/>
<line x1="57.18" y1="625.18" x2="63.18" y2="625.18" stroke="#000" stroke-width="1.3"/>
<line x1="62.22" y1="626.34" x2="62.22" y2="624.89" stroke="#000" stroke-width="1.3"/>
<line x1="59.22" y1="624.89" x2="65.22" y2="624.89" stroke="#000" stroke-width="1.3"/>
<line x1="65.08" y1="625.76" x2="65.08" y2="624.32" stroke="#000" stroke-width="1.3"/>
<line x1="62.08" y1="624.32" x2="68.08" y2="624.32" stroke="#000" stroke-width="1.3"/>
<line x1="71.20" y1="624.32" x2="71.20" y2="620.71" stroke="#000" stroke-width="1.3"/>
<line x1="68.20" y1="620.71" x2="74.20" y2="620.71" stroke="#000" stroke-width="1.3"/>
<line x1="83.44" y1="622.87" x2="83.44" y2="619.99" stroke="#000" stroke-width="1.3"/>
<line x1="80.44" y1="619.99" x2="86.44" y2="619.99" stroke="#000" stroke-width="1.3"/>
<line x1="101.80" y1="621.14" x2="101.80" y2="618.98" stroke="#000" stroke-width="1.3"/>
<line x1="98.80" y1="618.98" x2="104.80" y2="618.98" stroke="#000" stroke-width="1.3"/>
<line x1="122.20" y1="622.58" x2="122.20" y2="621.14" stroke="#000" stroke-width="1.3"/>
<line x1="119.20" y1="621.14" x2="125.20" y2="621.14" stroke="#000" stroke-width="1.3"/>
<line x1="142.60" y1="622.58" x2="142.60" y2="620.85" stroke="#000" stroke-width="1.3"/>
<line x1="139.60" y1="620.85" x2="145.60" y2="620.85" stroke="#000" stroke-width="1.3"/>
<line x1="165.04" y1="623.16" x2="165.04" y2="621.72" stroke="#000" stroke-width="1.3"/>
<line x1="162.04" y1="621.72" x2="168.04" y2="621.72" stroke="#000" stroke-width="1.3"/>
<line x1="195.64" y1="623.45" x2="195.64" y2="622.01" stroke="#000" stroke-width="1.3"/>
<line x1="192.64" y1="622.01" x2="198.64" y2="622.01" stroke="#000" stroke-width="1.3"/>
<line x1="234.40" y1="624.03" x2="234.40" y2="621.86" stroke="#000" stroke-width="1.3"/>
<line x1="231.40" y1="621.86" x2="237.40" y2="621.86" stroke="#000" stroke-width="1.3"/>
<line x1="275.20" y1="625.33" x2="275.20" y2="622.44" stroke="#000" stroke-width="1.3"/>
<line x1="272.20" y1="622.44" x2="278.20" y2="622.44" stroke="#000" stroke-width="1.3"/>
<path d="M50.80 660.40 L51.21 655.19 L51.62 650.79 L52.02 647.05 L52.43 643.90 L52.84 641.22 L53.25 638.96 L53.66 637.04 L54.06 635.42 L54.47 634.05 L54.88 632.89 L55.29 631.90 L55.70 631.07 L56.10 630.37 L56.51 629.77 L56.92 629.27 L57.33 628.84 L57.74 628.48 L58.14 628.17 L58.55 627.91 L58.96 627.69 L60.18 626.91 L62.22 626.34 L65.08 625.76 L71.20 624.32 L83.44 622.87 L101.80 621.14 L122.20 622.58 L142.60 622.58 L165.04 623.16 L195.64 623.45 L234.40 624.03 L275.20 625.33" fill="none" stroke="#000" stroke-width="1.4"/>
<circle cx="50.80" cy="660.40" r="2.95" fill="#000"/>
<circle cx="51.21" cy="655.19" r="2.95" fill="#000"/>
<circle cx="51.62" cy="650.79" r="2.95" fill="#000"/>
<circle cx="52.02" cy="647.05" r="2.95" fill="#000"/>
<circle cx="52.43" cy="643.90" r="2.95" fill="#000"/>
<circle cx="52.84" cy="641.22" r="2.95" fill="#000"/>
<circle cx="53.25" cy="638.96" r="2.95" fill="#000"/>
<circle cx="53.66" cy="637.04" r="2.95" fill="#000"/>
<circle cx="54.06" cy="635.42" r="2.95" fill="#000"/>
<circle cx="54.47" cy="634.05" r="2.95" fill="#000"/>
<circle cx="54.88" cy="632.89" r="2.95" fill="#000"/>
<circle cx="55.29" cy="631.90" r="2.95" fill="#000"/>
<circle cx="55.70" cy="631.07" r="2.95" fill="#000"/>
<circle cx="56.10" cy="630.37" r="2.95" fill="#000"/>
<circle cx="56.51" cy="629.77" r="2.95" fill="#000"/>
<circle cx="56.92" cy="629.27" r="2.95" fill="#000"/>
<circle cx="57.33" cy="628.84" r="2.95" fill="#000"/>
<circle cx="57.74" cy="628.48" r="2.95" fill="#000"/>
<circle cx="58.14" cy="628.17" r="2.95" fill="#000"/>
<circle cx="58.55" cy="627.91" r="2.95" fill="#000"/>
<circle cx="58.96" cy="627.69" r="2.95" fill="#000"/>
<circle cx="60.18" cy="626.91" r="2.95" fill="#000"/>
<circle cx="62.22" cy="626.34" r="2.95" fill="#000"/>
<circle cx="65.08" cy="625.76" r="2.95" fill="#000"/>
<circle cx="71.20" cy="624.32" r="2.95" fill="#000"/>
<circle cx="83.44" cy="622.87" r="2.95" fill="#000"/>
<circle cx="101.80" cy="621.14" r="2.95" fill="#000"/>
<circle cx="122.20" cy="622.58" r="2.95" fill="#000"/>
<circle cx="142.60" cy="622.58" r="2.95" fill="#000"/>
<circle cx="165.04" cy="623.16" r="2.95" fill="#000"/>
<circle cx="195.64" cy="623.45" r="2.95" fill="#000"/>
<circle cx="234.40" cy="624.03" r="2.95" fill="#000"/>
<circle cx="275.20" cy="625.33" r="2.95" fill="#000"/>
<line x1="71.20" y1="624.32" x2="71.20" y2="622.87" stroke="#000" stroke-width="1.3"/>
<line x1="68.20" y1="622.87" x2="74.20" y2="622.87" stroke="#000" stroke-width="1.3"/>
<line x1="83.44" y1="607.29" x2="83.44" y2="602.38" stroke="#000" stroke-width="1.3"/>
<line x1="80.44" y1="602.38" x2="86.44" y2="602.38" stroke="#000" stroke-width="1.3"/>
<line x1="101.80" y1="581.45" x2="101.80" y2="575.39" stroke="#000" stroke-width="1.3"/>
<line x1="98.80" y1="575.39" x2="104.80" y2="575.39" stroke="#000" stroke-width="1.3"/>
<line x1="122.20" y1="563.12" x2="122.20" y2="555.33" stroke="#000" stroke-width="1.3"/>
<line x1="119.20" y1="555.33" x2="125.20" y2="555.33" stroke="#000" stroke-width="1.3"/>
<line x1="142.60" y1="557.92" x2="142.60" y2="550.71" stroke="#000" stroke-width="1.3"/>
<line x1="139.60" y1="550.71" x2="145.60" y2="550.71" stroke="#000" stroke-width="1.3"/>
<line x1="165.04" y1="553.59" x2="165.04" y2="547.53" stroke="#000" stroke-width="1.3"/>
<line x1="162.04" y1="547.53" x2="168.04" y2="547.53" stroke="#000" stroke-width="1.3"/>
<line x1="195.64" y1="562.54" x2="195.64" y2="555.33" stroke="#000" stroke-width="1.3"/>
<line x1="192.64" y1="555.33" x2="198.64" y2="555.33" stroke="#000" stroke-width="1.3"/>
<line x1="234.40" y1="571.49" x2="234.40" y2="564.27" stroke="#000" stroke-width="1.3"/>
<line x1="231.40" y1="564.27" x2="237.40" y2="564.27" stroke="#000" stroke-width="1.3"/>
<line x1="275.20" y1="581.59" x2="275.20" y2="572.65" stroke="#000" stroke-width="1.3"/>
<line x1="272.20" y1="572.65" x2="278.20" y2="572.65" stroke="#000" stroke-width="1.3"/>
<path d="M50.80 660.40 L51.21 659.45 L51.62 658.49 L52.02 657.54 L52.43 656.59 L52.84 655.64 L53.25 654.68 L53.66 653.73 L54.06 652.78 L54.47 651.83 L54.88 650.87 L56.31 647.41 L58.14 643.22 L60.18 638.75 L62.22 634.42 L65.08 630.09 L71.20 624.32 L83.44 607.29 L101.80 581.45 L122.20 563.12 L142.60 557.92 L165.04 553.59 L195.64 562.54 L234.40 571.49 L275.20 581.59" fill="none" stroke="#000" stroke-width="1.4"/>
<circle cx="50.80" cy="660.40" r="2.5" fill="#fff" stroke="#000" stroke-width="0.95"/>
<circle cx="51.21" cy="659.45" r="2.5" fill="#fff" stroke="#000" stroke-width="0.95"/>
<circle cx="51.62" cy="658.49" r="2.5" fill="#fff" stroke="#000" stroke-width="0.95"/>
<circle cx="52.02" cy="657.54" r="2.5" fill="#fff" stroke="#000" stroke-width="0.95"/>
<circle cx="52.43" cy="656.59" r="2.5" fill="#fff" stroke="#000" stroke-width="0.95"/>
<circle cx="52.84" cy="655.64" r="2.5" fill="#fff" stroke="#000" stroke-width="0.95"/>
<circle cx="53.25" cy="654.68" r="2.5" fill="#fff" stroke="#000" stroke-width="0.95"/>
<circle cx="53.66" cy="653.73" r="2.5" fill="#fff" stroke="#000" stroke-width="0.95"/>
<circle cx="54.06" cy="652.78" r="2.5" fill="#fff" stroke="#000" stroke-width="0.95"/>
<circle cx="54.47" cy="651.83" r="2.5" fill="#fff" stroke="#000" stroke-width="0.95"/>
<circle cx="54.88" cy="650.87" r="2.5" fill="#fff" stroke="#000" stroke-width="0.95"/>
<circle cx="56.31" cy="647.41" r="2.5" fill="#fff" stroke="#000" stroke-width="0.95"/>
<circle cx="58.14" cy="643.22" r="2.5" fill="#fff" stroke="#000" stroke-width="0.95"/>
<circle cx="60.18" cy="638.75" r="2.5" fill="#fff" stroke="#000" stroke-width="0.95"/>
<circle cx="62.22" cy="634.42" r="2.5" fill="#fff" stroke="#000" stroke-width="0.95"/>
<circle cx="65.08" cy="630.09" r="2.5" fill="#fff" stroke="#000" stroke-width="0.95"/>
<circle cx="71.20" cy="624.32" r="2.5" fill="#fff" stroke="#000" stroke-width="0.95"/>
<circle cx="83.44" cy="607.29" r="2.5" fill="#fff" stroke="#000" stroke-width="0.95"/>
<circle cx="101.80" cy="581.45" r="2.5" fill="#fff" stroke="#000" stroke-width="0.95"/>
<circle cx="122.20" cy="563.12" r="2.5" fill="#fff" stroke="#000" stroke-width="0.95"/>
<circle cx="142.60" cy="557.92" r="2.5" fill="#fff" stroke="#000" stroke-width="0.95"/>
<circle cx="165.04" cy="553.59" r="2.5" fill="#fff" stroke="#000" stroke-width="0.95"/>
<circle cx="195.64" cy="562.54" r="2.5" fill="#fff" stroke="#000" stroke-width="0.95"/>
<circle cx="234.40" cy="571.49" r="2.5" fill="#fff" stroke="#000" stroke-width="0.95"/>
<circle cx="275.20" cy="581.59" r="2.5" fill="#fff" stroke="#000" stroke-width="0.95"/>
<text x="295.20" y="15.00" font-size="16.5" text-anchor="start" >B</text>
<text x="288.20" y="240.40" font-size="16.5" text-anchor="start" >D</text>
<text x="293.40" y="481.50" font-size="16.5" text-anchor="start" >F</text>
<line x1="331.00" y1="55.40" x2="331.00" y2="189.90" stroke="#000" stroke-width="1.3"/>
<line x1="330.40" y1="189.30" x2="399.40" y2="189.30" stroke="#000" stroke-width="1.3"/>
<line x1="329.20" y1="189.30" x2="331.00" y2="189.30" stroke="#000" stroke-width="1.3"/>
<text x="326.30" y="191.50" font-size="7.4" text-anchor="end" >0.0</text>
<line x1="329.20" y1="167.08" x2="331.00" y2="167.08" stroke="#000" stroke-width="1.3"/>
<text x="326.30" y="169.28" font-size="7.4" text-anchor="end" >0.2</text>
<line x1="329.20" y1="144.87" x2="331.00" y2="144.87" stroke="#000" stroke-width="1.3"/>
<text x="326.30" y="147.07" font-size="7.4" text-anchor="end" >0.4</text>
<line x1="329.20" y1="122.65" x2="331.00" y2="122.65" stroke="#000" stroke-width="1.3"/>
<text x="326.30" y="124.85" font-size="7.4" text-anchor="end" >0.6</text>
<line x1="329.20" y1="100.43" x2="331.00" y2="100.43" stroke="#000" stroke-width="1.3"/>
<text x="326.30" y="102.63" font-size="7.4" text-anchor="end" >0.8</text>
<line x1="329.20" y1="78.22" x2="331.00" y2="78.22" stroke="#000" stroke-width="1.3"/>
<text x="326.30" y="80.42" font-size="7.4" text-anchor="end" >1.0</text>
<line x1="329.20" y1="56.00" x2="331.00" y2="56.00" stroke="#000" stroke-width="1.3"/>
<text x="326.30" y="58.20" font-size="7.4" text-anchor="end" >1.2</text>
<text x="361.70" y="42.90" font-size="8.9" text-anchor="middle" >Hepatic uptake</text>
<text x="306.20" y="122.65" font-size="7.5" text-anchor="middle" transform="rotate(-90 306.20 122.65)" >Influx rate constant (1/min)</text>
<line x1="349.75" y1="122.98" x2="349.75" y2="105.99" stroke="#000" stroke-width="1.2"/>
<line x1="345.25" y1="105.99" x2="354.25" y2="105.99" stroke="#000" stroke-width="1.2"/>
<line x1="349.75" y1="189.30" x2="349.75" y2="191.20" stroke="#000" stroke-width="1.3"/>
<rect x="340.90" y="122.98" width="17.70" height="66.32" fill="#000" stroke="#000" stroke-width="1.2"/>
<line x1="379.40" y1="168.97" x2="379.40" y2="163.20" stroke="#000" stroke-width="1.2"/>
<line x1="374.90" y1="163.20" x2="383.90" y2="163.20" stroke="#000" stroke-width="1.2"/>
<line x1="379.40" y1="189.30" x2="379.40" y2="191.20" stroke="#000" stroke-width="1.3"/>
<rect x="370.60" y="168.97" width="17.60" height="20.33" fill="#fff" stroke="#000" stroke-width="1.2"/>
<text x="350.90" y="198.30" font-size="7.4" text-anchor="middle" >Control</text>
<text x="380.20" y="198.30" font-size="7.4" text-anchor="middle" >Cim</text>
<text x="379.50" y="159.60" font-size="10" text-anchor="middle" >*</text>
<line x1="434.20" y1="55.40" x2="434.20" y2="189.60" stroke="#000" stroke-width="1.3"/>
<line x1="433.60" y1="189.00" x2="502.00" y2="189.00" stroke="#000" stroke-width="1.3"/>
<line x1="432.40" y1="189.00" x2="434.20" y2="189.00" stroke="#000" stroke-width="1.3"/>
<text x="429.30" y="191.20" font-size="7.4" text-anchor="end" >0</text>
<line x1="432.40" y1="170.00" x2="434.20" y2="170.00" stroke="#000" stroke-width="1.3"/>
<text x="429.30" y="172.20" font-size="7.4" text-anchor="end" >50</text>
<line x1="432.40" y1="151.00" x2="434.20" y2="151.00" stroke="#000" stroke-width="1.3"/>
<text x="429.30" y="153.20" font-size="7.4" text-anchor="end" >100</text>
<line x1="432.40" y1="132.00" x2="434.20" y2="132.00" stroke="#000" stroke-width="1.3"/>
<text x="429.30" y="134.20" font-size="7.4" text-anchor="end" >150</text>
<line x1="432.40" y1="113.00" x2="434.20" y2="113.00" stroke="#000" stroke-width="1.3"/>
<text x="429.30" y="115.20" font-size="7.4" text-anchor="end" >200</text>
<line x1="432.40" y1="94.00" x2="434.20" y2="94.00" stroke="#000" stroke-width="1.3"/>
<text x="429.30" y="96.20" font-size="7.4" text-anchor="end" >250</text>
<line x1="432.40" y1="75.00" x2="434.20" y2="75.00" stroke="#000" stroke-width="1.3"/>
<text x="429.30" y="77.20" font-size="7.4" text-anchor="end" >300</text>
<line x1="432.40" y1="56.00" x2="434.20" y2="56.00" stroke="#000" stroke-width="1.3"/>
<text x="429.30" y="58.20" font-size="7.4" text-anchor="end" >350</text>
<text x="464.80" y="42.90" font-size="8.75" text-anchor="middle" >Liver-to-blood ratio AUC</text>
<text x="407.40" y="122.50" font-size="7.5" text-anchor="middle" transform="rotate(-90 407.40 122.50)" >AUC(2-60 min) (min)</text>
<line x1="452.30" y1="162.02" x2="452.30" y2="160.88" stroke="#000" stroke-width="1.2"/>
<line x1="447.80" y1="160.88" x2="456.80" y2="160.88" stroke="#000" stroke-width="1.2"/>
<line x1="452.30" y1="189.00" x2="452.30" y2="190.90" stroke="#000" stroke-width="1.3"/>
<rect x="443.40" y="162.02" width="17.80" height="26.98" fill="#000" stroke="#000" stroke-width="1.2"/>
<line x1="482.35" y1="106.92" x2="482.35" y2="92.29" stroke="#000" stroke-width="1.2"/>
<line x1="477.85" y1="92.29" x2="486.85" y2="92.29" stroke="#000" stroke-width="1.2"/>
<line x1="482.35" y1="189.00" x2="482.35" y2="190.90" stroke="#000" stroke-width="1.3"/>
<rect x="473.30" y="106.92" width="18.10" height="82.08" fill="#fff" stroke="#000" stroke-width="1.2"/>
<text x="452.30" y="198.30" font-size="7.4" text-anchor="middle" >Control</text>
<text x="482.90" y="198.30" font-size="7.4" text-anchor="middle" >Cim</text>
<text x="482.00" y="88.90" font-size="10" text-anchor="middle" >*</text>
<line x1="329.30" y1="291.80" x2="329.30" y2="426.20" stroke="#000" stroke-width="1.3"/>
<line x1="328.70" y1="425.60" x2="398.00" y2="425.60" stroke="#000" stroke-width="1.3"/>
<line x1="327.50" y1="425.60" x2="329.30" y2="425.60" stroke="#000" stroke-width="1.3"/>
<text x="324.00" y="427.80" font-size="7.4" text-anchor="end" >0.0</text>
<line x1="327.50" y1="403.40" x2="329.30" y2="403.40" stroke="#000" stroke-width="1.3"/>
<text x="324.00" y="405.60" font-size="7.4" text-anchor="end" >0.2</text>
<line x1="327.50" y1="381.20" x2="329.30" y2="381.20" stroke="#000" stroke-width="1.3"/>
<text x="324.00" y="383.40" font-size="7.4" text-anchor="end" >0.4</text>
<line x1="327.50" y1="359.00" x2="329.30" y2="359.00" stroke="#000" stroke-width="1.3"/>
<text x="324.00" y="361.20" font-size="7.4" text-anchor="end" >0.6</text>
<line x1="327.50" y1="336.80" x2="329.30" y2="336.80" stroke="#000" stroke-width="1.3"/>
<text x="324.00" y="339.00" font-size="7.4" text-anchor="end" >0.8</text>
<line x1="327.50" y1="314.60" x2="329.30" y2="314.60" stroke="#000" stroke-width="1.3"/>
<text x="324.00" y="316.80" font-size="7.4" text-anchor="end" >1.0</text>
<line x1="327.50" y1="292.40" x2="329.30" y2="292.40" stroke="#000" stroke-width="1.3"/>
<text x="324.00" y="294.60" font-size="7.4" text-anchor="end" >1.2</text>
<text x="361.30" y="281.20" font-size="8.5" text-anchor="middle" >Hepatic uptake</text>
<text x="304.00" y="359.00" font-size="7.5" text-anchor="middle" transform="rotate(-90 304.00 359.00)" >Influx rate constant (1/min)</text>
<line x1="347.10" y1="335.58" x2="347.10" y2="325.37" stroke="#000" stroke-width="1.2"/>
<line x1="342.60" y1="325.37" x2="351.60" y2="325.37" stroke="#000" stroke-width="1.2"/>
<line x1="347.10" y1="425.60" x2="347.10" y2="427.50" stroke="#000" stroke-width="1.3"/>
<rect x="338.30" y="335.58" width="17.60" height="90.02" fill="#000" stroke="#000" stroke-width="1.2"/>
<line x1="377.30" y1="355.00" x2="377.30" y2="345.68" stroke="#000" stroke-width="1.2"/>
<line x1="372.80" y1="345.68" x2="381.80" y2="345.68" stroke="#000" stroke-width="1.2"/>
<line x1="377.30" y1="425.60" x2="377.30" y2="427.50" stroke="#000" stroke-width="1.3"/>
<rect x="368.60" y="355.00" width="17.40" height="70.60" fill="#fff" stroke="#000" stroke-width="1.2"/>
<text x="345.10" y="437.30" font-size="7.4" text-anchor="middle" >WT</text>
<text x="377.80" y="437.30" font-size="7.4" text-anchor="middle" >OCT1/2-/-</text>
<line x1="430.10" y1="293.00" x2="430.10" y2="427.30" stroke="#000" stroke-width="1.3"/>
<line x1="429.50" y1="426.70" x2="498.40" y2="426.70" stroke="#000" stroke-width="1.3"/>
<line x1="428.30" y1="426.70" x2="430.10" y2="426.70" stroke="#000" stroke-width="1.3"/>
<text x="424.70" y="428.90" font-size="7.4" text-anchor="end" >0</text>
<line x1="428.30" y1="404.52" x2="430.10" y2="404.52" stroke="#000" stroke-width="1.3"/>
<text x="424.70" y="406.72" font-size="7.4" text-anchor="end" >20</text>
<line x1="428.30" y1="382.33" x2="430.10" y2="382.33" stroke="#000" stroke-width="1.3"/>
<text x="424.70" y="384.53" font-size="7.4" text-anchor="end" >40</text>
<line x1="428.30" y1="360.15" x2="430.10" y2="360.15" stroke="#000" stroke-width="1.3"/>
<text x="424.70" y="362.35" font-size="7.4" text-anchor="end" >60</text>
<line x1="428.30" y1="337.97" x2="430.10" y2="337.97" stroke="#000" stroke-width="1.3"/>
<text x="424.70" y="340.17" font-size="7.4" text-anchor="end" >80</text>
<line x1="428.30" y1="315.78" x2="430.10" y2="315.78" stroke="#000" stroke-width="1.3"/>
<text x="424.70" y="317.98" font-size="7.4" text-anchor="end" >100</text>
<line x1="428.30" y1="293.60" x2="430.10" y2="293.60" stroke="#000" stroke-width="1.3"/>
<text x="424.70" y="295.80" font-size="7.4" text-anchor="end" >120</text>
<text x="461.70" y="280.80" font-size="9.1" text-anchor="middle" >Liver-to-blood ratio AUC</text>
<text x="406.40" y="360.15" font-size="7.5" text-anchor="middle" transform="rotate(-90 406.40 360.15)" >AUC(2-60 min) (min)</text>
<line x1="448.45" y1="327.32" x2="448.45" y2="323.66" stroke="#000" stroke-width="1.2"/>
<line x1="443.95" y1="323.66" x2="452.95" y2="323.66" stroke="#000" stroke-width="1.2"/>
<line x1="448.45" y1="426.70" x2="448.45" y2="428.60" stroke="#000" stroke-width="1.3"/>
<rect x="439.70" y="327.32" width="17.50" height="99.38" fill="#000" stroke="#000" stroke-width="1.2"/>
<line x1="478.30" y1="374.01" x2="478.30" y2="369.69" stroke="#000" stroke-width="1.2"/>
<line x1="473.80" y1="369.69" x2="482.80" y2="369.69" stroke="#000" stroke-width="1.2"/>
<line x1="478.30" y1="426.70" x2="478.30" y2="428.60" stroke="#000" stroke-width="1.3"/>
<rect x="469.40" y="374.01" width="17.80" height="52.69" fill="#fff" stroke="#000" stroke-width="1.2"/>
<text x="447.50" y="438.10" font-size="7.4" text-anchor="middle" >WT</text>
<text x="478.70" y="438.10" font-size="7.4" text-anchor="middle" >OCT1/2-/-</text>
<text x="478.40" y="366.70" font-size="10" text-anchor="middle" >**</text>
<line x1="329.30" y1="527.70" x2="329.30" y2="661.40" stroke="#000" stroke-width="1.3"/>
<line x1="328.70" y1="660.80" x2="397.30" y2="660.80" stroke="#000" stroke-width="1.3"/>
<line x1="327.50" y1="660.80" x2="329.30" y2="660.80" stroke="#000" stroke-width="1.3"/>
<text x="324.00" y="663.00" font-size="7.4" text-anchor="end" >0.0</text>
<line x1="327.50" y1="638.72" x2="329.30" y2="638.72" stroke="#000" stroke-width="1.3"/>
<text x="324.00" y="640.92" font-size="7.4" text-anchor="end" >0.2</text>
<line x1="327.50" y1="616.63" x2="329.30" y2="616.63" stroke="#000" stroke-width="1.3"/>
<text x="324.00" y="618.83" font-size="7.4" text-anchor="end" >0.4</text>
<line x1="327.50" y1="594.55" x2="329.30" y2="594.55" stroke="#000" stroke-width="1.3"/>
<text x="324.00" y="596.75" font-size="7.4" text-anchor="end" >0.6</text>
<line x1="327.50" y1="572.47" x2="329.30" y2="572.47" stroke="#000" stroke-width="1.3"/>
<text x="324.00" y="574.67" font-size="7.4" text-anchor="end" >0.8</text>
<line x1="327.50" y1="550.38" x2="329.30" y2="550.38" stroke="#000" stroke-width="1.3"/>
<text x="324.00" y="552.58" font-size="7.4" text-anchor="end" >1.0</text>
<line x1="327.50" y1="528.30" x2="329.30" y2="528.30" stroke="#000" stroke-width="1.3"/>
<text x="324.00" y="530.50" font-size="7.4" text-anchor="end" >1.2</text>
<text x="360.20" y="517.60" font-size="9.0" text-anchor="middle" >Hepatic uptake</text>
<text x="303.90" y="594.55" font-size="7.5" text-anchor="middle" transform="rotate(-90 303.90 594.55)" >Influx rate constant (1/min)</text>
<line x1="347.35" y1="597.42" x2="347.35" y2="577.10" stroke="#000" stroke-width="1.2"/>
<line x1="345.15" y1="577.10" x2="349.55" y2="577.10" stroke="#000" stroke-width="1.2"/>
<line x1="347.35" y1="660.80" x2="347.35" y2="662.70" stroke="#000" stroke-width="1.3"/>
<rect x="338.40" y="597.42" width="17.90" height="63.38" fill="#000" stroke="#000" stroke-width="1.2"/>
<line x1="377.70" y1="597.42" x2="377.70" y2="590.02" stroke="#000" stroke-width="1.2"/>
<line x1="375.50" y1="590.02" x2="379.90" y2="590.02" stroke="#000" stroke-width="1.2"/>
<line x1="377.70" y1="660.80" x2="377.70" y2="662.70" stroke="#000" stroke-width="1.3"/>
<rect x="368.80" y="597.42" width="17.80" height="63.38" fill="#fff" stroke="#000" stroke-width="1.2"/>
<text x="346.60" y="671.30" font-size="7.4" text-anchor="middle" >Control</text>
<text x="376.90" y="671.30" font-size="7.4" text-anchor="middle" >Pyr</text>
<line x1="431.30" y1="528.80" x2="431.30" y2="663.00" stroke="#000" stroke-width="1.3"/>
<line x1="430.70" y1="662.40" x2="498.90" y2="662.40" stroke="#000" stroke-width="1.3"/>
<line x1="429.50" y1="662.40" x2="431.30" y2="662.40" stroke="#000" stroke-width="1.3"/>
<text x="425.60" y="664.60" font-size="7.4" text-anchor="end" >0</text>
<line x1="429.50" y1="629.15" x2="431.30" y2="629.15" stroke="#000" stroke-width="1.3"/>
<text x="425.60" y="631.35" font-size="7.4" text-anchor="end" >100</text>
<line x1="429.50" y1="595.90" x2="431.30" y2="595.90" stroke="#000" stroke-width="1.3"/>
<text x="425.60" y="598.10" font-size="7.4" text-anchor="end" >200</text>
<line x1="429.50" y1="562.65" x2="431.30" y2="562.65" stroke="#000" stroke-width="1.3"/>
<text x="425.60" y="564.85" font-size="7.4" text-anchor="end" >300</text>
<line x1="429.50" y1="529.40" x2="431.30" y2="529.40" stroke="#000" stroke-width="1.3"/>
<text x="425.60" y="531.60" font-size="7.4" text-anchor="end" >400</text>
<text x="461.40" y="517.50" font-size="9.1" text-anchor="middle" >Liver-to-blood ratio AUC</text>
<text x="406.90" y="595.90" font-size="7.5" text-anchor="middle" transform="rotate(-90 406.90 595.90)" >AUC(2-60 min) (min)</text>
<line x1="449.25" y1="617.71" x2="449.25" y2="615.85" stroke="#000" stroke-width="1.2"/>
<line x1="447.05" y1="615.85" x2="451.45" y2="615.85" stroke="#000" stroke-width="1.2"/>
<line x1="449.25" y1="662.40" x2="449.25" y2="664.30" stroke="#000" stroke-width="1.3"/>
<rect x="440.50" y="617.71" width="17.50" height="44.69" fill="#000" stroke="#000" stroke-width="1.2"/>
<line x1="478.80" y1="558.19" x2="478.80" y2="552.21" stroke="#000" stroke-width="1.2"/>
<line x1="476.60" y1="552.21" x2="481.00" y2="552.21" stroke="#000" stroke-width="1.2"/>
<line x1="478.80" y1="662.40" x2="478.80" y2="664.30" stroke="#000" stroke-width="1.3"/>
<rect x="469.80" y="558.19" width="18.00" height="104.21" fill="#fff" stroke="#000" stroke-width="1.2"/>
<text x="449.10" y="673.40" font-size="7.4" text-anchor="middle" >Control</text>
<text x="479.60" y="673.40" font-size="7.4" text-anchor="middle" >Pyr</text>
<text x="479.20" y="548.00" font-size="10" text-anchor="middle" >**</text>
</svg>
</body></html>
